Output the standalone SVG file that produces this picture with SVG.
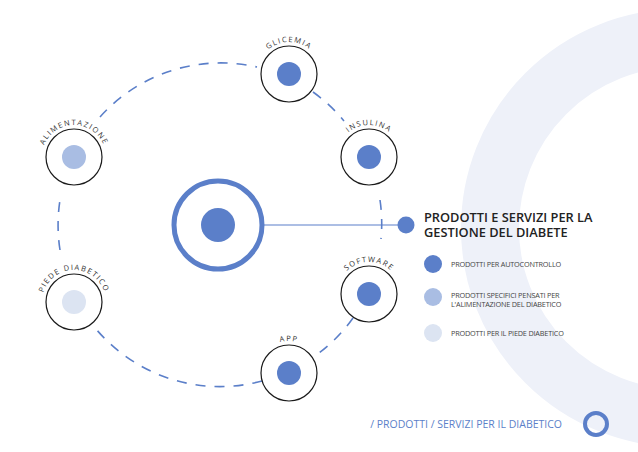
<svg xmlns="http://www.w3.org/2000/svg" width="638" height="452" viewBox="0 0 638 452">
<style>
.ring{fill:#fff;stroke:#1a1a1a;stroke-width:1.2}
.d1{fill:#5b7fc9}.d2{fill:#a9bde3}.d3{fill:#dce4f2}
.dash{fill:none;stroke:#5b7fc9;stroke-width:1.6;stroke-dasharray:10 9}
.lbl{font-family:"Open Sans","Liberation Sans",sans-serif;font-size:7.5px;letter-spacing:1.4px;fill:#333}
.leg{font-family:"Open Sans","Liberation Sans",sans-serif;font-size:7.3px;fill:#444;letter-spacing:-0.2px}
</style>
<defs>
<path id="a1" d="M257,74 A32,32 0 0 1 321,74"/>
<path id="a2" d="M337,157 A32,32 0 0 1 401,157"/>
<path id="a3" d="M337,294 A32,32 0 0 1 401,294"/>
<path id="a4" d="M257,373 A32,32 0 0 1 321,373"/>
<path id="a5" d="M42,157 A32,32 0 0 1 106,157"/>
<path id="a6" d="M42,302 A32,32 0 0 1 106,302"/>
</defs>
<rect width="638" height="452" fill="#fff"/>
<circle cx="680" cy="228" r="190" fill="none" stroke="#eef1f9" stroke-width="58"/>
<g id="connectors">
<path class="dash" d="M100,117 A162,162 0 0 1 257,67"/>
<path class="dash" d="M313,92 A162,162 0 0 1 344,121"/>
<path class="dash" d="M380,200 A162,162 0 0 1 381,239"/>
<path class="dash" d="M353,318 A162,162 0 0 1 315,356"/>
<path class="dash" d="M262,381 A162,162 0 0 1 96,329"/>
<path class="dash" d="M60,250 A162,162 0 0 1 60,200"/>
<line x1="218" y1="225" x2="405" y2="225" stroke="#5b7fc9" stroke-width="1.2"/>
</g>
<g id="center"><circle cx="218" cy="225" r="44" fill="#fff" stroke="#5b7fc9" stroke-width="5"/><circle class="d1" cx="218" cy="225" r="17"/></g>
<g id="glicemia"><circle class="ring" cx="289" cy="74" r="28"/><circle class="d1" cx="289" cy="74" r="12"/><text class="lbl"><textPath href="#a1" startOffset="50%" text-anchor="middle">GLICEMIA</textPath></text></g>
<g id="insulina"><circle class="ring" cx="369" cy="157" r="28"/><circle class="d1" cx="369" cy="157" r="12"/><text class="lbl"><textPath href="#a2" startOffset="50%" text-anchor="middle">INSULINA</textPath></text></g>
<g id="software"><circle class="ring" cx="369" cy="294" r="28"/><circle class="d1" cx="369" cy="294" r="12"/><text class="lbl"><textPath href="#a3" startOffset="50%" text-anchor="middle">SOFTWARE</textPath></text></g>
<g id="app"><circle class="ring" cx="289" cy="373" r="28"/><circle class="d1" cx="289" cy="373" r="12"/><text class="lbl"><textPath href="#a4" startOffset="50%" text-anchor="middle">APP</textPath></text></g>
<g id="alimentazione"><circle class="ring" cx="74" cy="157" r="28"/><circle class="d2" cx="74" cy="157" r="12"/><text class="lbl"><textPath href="#a5" startOffset="50%" text-anchor="middle">ALIMENTAZIONE</textPath></text></g>
<g id="piede"><circle class="ring" cx="74" cy="302" r="28"/><circle class="d3" cx="74" cy="302" r="12"/><text class="lbl"><textPath href="#a6" startOffset="50%" text-anchor="middle">PIEDE DIABETICO</textPath></text></g>
<g id="legend">
<circle class="d1" cx="406" cy="225" r="8.5"/>
<text font-family="'Open Sans','Liberation Sans',sans-serif" font-size="12.8" font-weight="600" fill="#222"><tspan x="424" y="222">PRODOTTI E SERVIZI PER LA</tspan><tspan x="424" y="237">GESTIONE DEL DIABETE</tspan></text>
<circle class="d1" cx="433" cy="264" r="9"/><text class="leg" x="451" y="266.5">PRODOTTI PER AUTOCONTROLLO</text>
<circle class="d2" cx="433" cy="297" r="9"/><text class="leg"><tspan x="451" y="298">PRODOTTI SPECIFICI PENSATI PER</tspan><tspan x="451" y="307">L'ALIMENTAZIONE DEL DIABETICO</tspan></text>
<circle class="d3" cx="433" cy="333" r="9"/><text class="leg" x="451" y="336">PRODOTTI PER IL PIEDE DIABETICO</text>
</g>
<g id="footer">
<text x="562" y="428" text-anchor="end" font-family="'Open Sans','Liberation Sans',sans-serif" font-size="10.5" fill="#5b7fc9">/ PRODOTTI / SERVIZI PER IL DIABETICO</text>
<circle cx="596" cy="424" r="11" fill="none" stroke="#5b7fc9" stroke-width="4"/>
</g>
</svg>
